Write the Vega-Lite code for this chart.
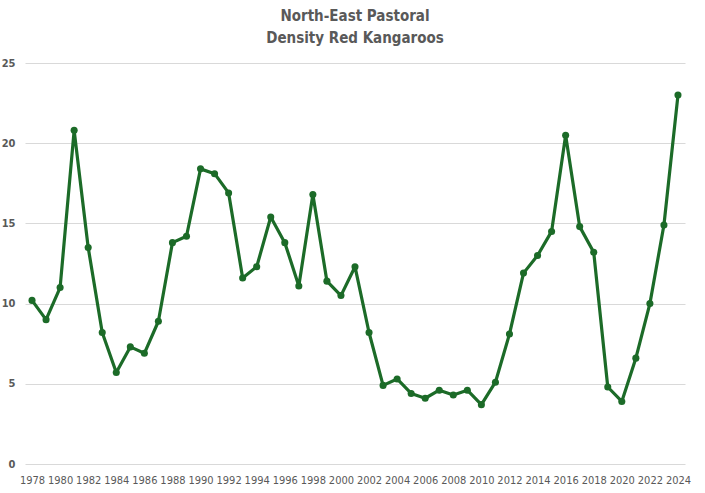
{
  "$schema": "https://vega.github.io/schema/vega-lite/v6.json",
  "width": 660,
  "height": 401,
  "autosize": {"type": "none"},
  "padding": {"left": 25, "top": 63, "right": 20, "bottom": 29},
  "background": "white",
  "title": {
    "text": ["North-East Pastoral", "Density Red Kangaroos"],
    "anchor": "middle",
    "frame": "group",
    "font": "Liberation Sans Narrow, DejaVu Sans Condensed, Roboto, sans-serif",
    "fontSize": 15,
    "fontWeight": "bold",
    "color": "#595959",
    "lineHeight": 22,
    "offset": 11
  },
  "config": {
    "view": {"stroke": null},
    "axis": {
      "labelFont": "Liberation Sans Narrow, DejaVu Sans Condensed, Roboto, sans-serif",
      "labelColor": "#595959",
      "labelFontSize": 11,
      "domain": false,
      "ticks": false,
      "title": null
    }
  },
  "data": {
    "values": [
      {"year": 1978, "density": 10.2},
      {"year": 1979, "density": 9.0},
      {"year": 1980, "density": 11.0},
      {"year": 1981, "density": 20.8},
      {"year": 1982, "density": 13.5},
      {"year": 1983, "density": 8.2},
      {"year": 1984, "density": 5.7},
      {"year": 1985, "density": 7.3},
      {"year": 1986, "density": 6.9},
      {"year": 1987, "density": 8.9},
      {"year": 1988, "density": 13.8},
      {"year": 1989, "density": 14.2},
      {"year": 1990, "density": 18.4},
      {"year": 1991, "density": 18.1},
      {"year": 1992, "density": 16.9},
      {"year": 1993, "density": 11.6},
      {"year": 1994, "density": 12.3},
      {"year": 1995, "density": 15.4},
      {"year": 1996, "density": 13.8},
      {"year": 1997, "density": 11.1},
      {"year": 1998, "density": 16.8},
      {"year": 1999, "density": 11.4},
      {"year": 2000, "density": 10.5},
      {"year": 2001, "density": 12.3},
      {"year": 2002, "density": 8.2},
      {"year": 2003, "density": 4.9},
      {"year": 2004, "density": 5.3},
      {"year": 2005, "density": 4.4},
      {"year": 2006, "density": 4.1},
      {"year": 2007, "density": 4.6},
      {"year": 2008, "density": 4.3},
      {"year": 2009, "density": 4.6},
      {"year": 2010, "density": 3.7},
      {"year": 2011, "density": 5.1},
      {"year": 2012, "density": 8.1},
      {"year": 2013, "density": 11.9},
      {"year": 2014, "density": 13.0},
      {"year": 2015, "density": 14.5},
      {"year": 2016, "density": 20.5},
      {"year": 2017, "density": 14.8},
      {"year": 2018, "density": 13.2},
      {"year": 2019, "density": 4.8},
      {"year": 2020, "density": 3.9},
      {"year": 2021, "density": 6.6},
      {"year": 2022, "density": 10.0},
      {"year": 2023, "density": 14.9},
      {"year": 2024, "density": 23.0}
    ]
  },
  "encoding": {
    "x": {
      "field": "year",
      "type": "ordinal",
      "scale": {"paddingInner": 0, "paddingOuter": 0},
      "axis": {
        "labelAngle": 0,
        "labelPadding": 10,
        "labelOverlap": false,
        "grid": false,
        "labelExpr": "datum.value % 2 == 0 ? datum.label : ''"
      }
    },
    "y": {
      "field": "density",
      "type": "quantitative",
      "scale": {"domain": [0, 25], "nice": false},
      "axis": {
        "values": [0, 5, 10, 15, 20, 25],
        "grid": true,
        "gridColor": "#d9d9d9",
        "gridWidth": 1,
        "labelPadding": 10,
        "labelFontWeight": "bold"
      }
    }
  },
  "layer": [
    {
      "mark": {"type": "line", "color": "#1c6b28", "strokeWidth": 3.2, "strokeJoin": "round"}
    },
    {
      "mark": {"type": "point", "filled": true, "color": "#1c6b28", "size": 50, "opacity": 1}
    }
  ]
}
